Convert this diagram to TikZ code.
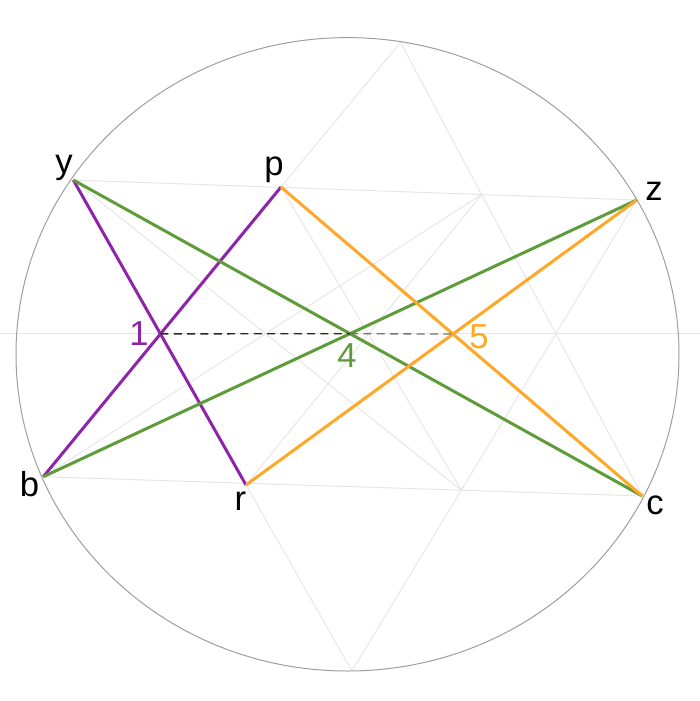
\documentclass[tikz,border=0pt]{standalone}
\usepackage{fontspec}
\setmainfont{Liberation Sans}
\usetikzlibrary{calc}
\definecolor{pappurple}{HTML}{8E24AA}
\definecolor{papgreen}{HTML}{5E9C3A}
\definecolor{paporange}{HTML}{FFA726}
\definecolor{faintgray}{HTML}{E6E6E6}

\begin{document}
\begin{tikzpicture}[x=0.75pt,y=-0.75pt,
    faint/.style={draw=faintgray, line width=0.75pt},
    side/.style={line width=2.25pt},
    lbl/.style={inner sep=0pt, font=\fontsize{26}{30}\selectfont}]
    \useasboundingbox (0,0) rectangle (700,701);
    \coordinate (o) at (347.5,354.3);
    \coordinate (y) at (73.3,180);
    \coordinate (p) at (281,187);
    \coordinate (z) at (636.7,200);
    \coordinate (b) at (43.3,476.7);
    \coordinate (r) at (246,485);
    \coordinate (c) at (642.3,496);
    \coordinate (T) at (400.5,42.3);
    \coordinate (B) at (352,671);
    \coordinate (L0) at (0,0);
    \coordinate (L1) at (700,0);
    \coordinate (Q) at (intersection of y--z and T--c);
    \coordinate (R) at (intersection of b--c and B--z);
    \coordinate (one) at (intersection of y--r and b--p);
    \coordinate (four) at (intersection of y--c and b--z);
    \coordinate (five) at (intersection of p--c and z--r);
    \draw[faint] (L0 |- four) -- (L1 |- four);
    \draw[faint] (y) -- (z);
    \draw[faint] (b) -- (c);
    \draw[faint] (T) -- (p);
    \draw[faint] (T) -- (c);
    \draw[faint] (B) -- (r);
    \draw[faint] (B) -- (z);
    \draw[faint] (b) -- (Q);
    \draw[faint] (y) -- (R);
    \draw[faint] (p) -- (R);
    \draw[faint] (Q) -- (r);
    \draw[draw=black!38, line width=0.75pt] (o) ellipse [x radius=331.5, y radius=316.7];
    \draw[side, pappurple] (y) -- (r);
    \draw[side, pappurple] (b) -- (p);
    \draw[side, papgreen] (y) -- (c);
    \draw[side, papgreen] (b) -- (z);
    \draw[side, paporange] (p) -- (c);
    \draw[side, paporange] (z) -- (r);
    \draw[black!85, line width=1pt, dash pattern=on 6pt off 4pt] (one) -- (four);
    \draw[black!55, line width=1pt, dash pattern=on 6pt off 4pt] (four) -- (five);
    \node[lbl] (ly) at (64,168) {y};
    \node[lbl] (lp) at (274,170) {p};
    \node[lbl] (lz) at (654,191) {z};
    \node[lbl] (lb) at (29.5,484.5) {b};
    \node[lbl] (lr) at (240.5,501) {r};
    \node[lbl] (lc) at (655,505) {c};
    \node[lbl, pappurple] (lone) at (139,334) {1};
    \node[lbl, papgreen] (lfour) at (347,356) {4};
    \node[lbl, paporange] (lfive) at (479,337) {5};
\end{tikzpicture}
\end{document}
